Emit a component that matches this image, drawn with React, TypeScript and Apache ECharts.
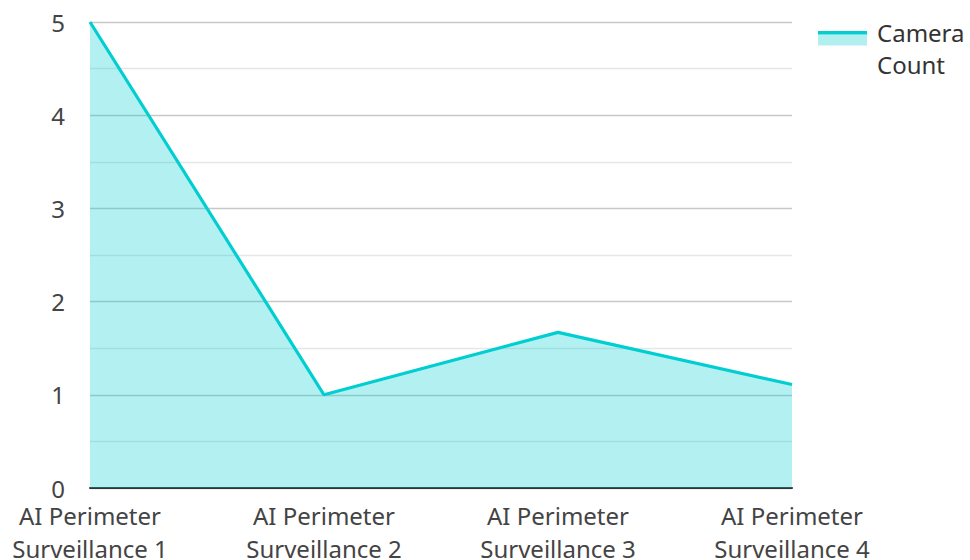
import React, { useEffect, useRef } from "react";
import * as echarts from "echarts";

const categories = [
  "AI Perimeter\nSurveillance 1",
  "AI Perimeter\nSurveillance 2",
  "AI Perimeter\nSurveillance 3",
  "AI Perimeter\nSurveillance 4",
];
const cameraCount = [5, 1, 1.67, 1.11];
const seriesName = "Camera Count";
const legendLines = ["Camera", "Count"];

const FONT = "'Noto Sans', 'Open Sans', sans-serif";
const LINE_COLOR = "#00CED1";
const AREA_COLOR = "#B2F0F0";

export default function App() {
  const ref = useRef<HTMLDivElement>(null);
  useEffect(() => {
    if (!ref.current) return;
    const chart = echarts.init(ref.current, undefined, { renderer: "svg" });
    chart.setOption({
      animation: false,
      backgroundColor: "#ffffff",
      textStyle: { fontFamily: FONT },
      grid: { left: 90, right: 178, top: 22, bottom: 72, containLabel: false, outerBoundsMode: "none" },
      xAxis: {
        type: "category",
        data: categories,
        boundaryGap: false,
        axisLine: { show: true, lineStyle: { color: "#333333", width: 2 } },
        axisTick: { show: false },
        splitLine: { show: false },
        axisLabel: {
          color: "#444444",
          fontSize: 24,
          lineHeight: 33,
          margin: 11,
          fontFamily: FONT,
          interval: 0,
        },
      },
      yAxis: {
        type: "value",
        min: 0,
        max: 5,
        interval: 1,
        axisLine: { show: false },
        axisTick: { show: false },
        axisLabel: { color: "#444444", fontSize: 24, margin: 25, fontFamily: FONT },
        splitLine: { show: true, lineStyle: { color: "#c8c8c8", width: 1.3 } },
        minorTick: { show: false, splitNumber: 2 },
        minorSplitLine: { show: true, lineStyle: { color: "#e6e6e6", width: 1.3 } },
      },
      series: [
        {
          name: seriesName,
          type: "line",
          data: cameraCount,
          symbol: "none",
          lineStyle: { color: LINE_COLOR, width: 3.2 },
          itemStyle: { color: LINE_COLOR },
          areaStyle: { color: LINE_COLOR, opacity: 0.3 },
        },
      ],
      graphic: [
        { type: "rect", shape: { x: 818, y: 34.5, width: 49, height: 11 }, style: { fill: AREA_COLOR } },
        { type: "rect", shape: { x: 818, y: 31, width: 49, height: 3.5 }, style: { fill: LINE_COLOR } },
        {
          type: "text",
          x: 877,
          y: 32,
          style: { text: legendLines[0], fill: "#333333", fontSize: 24, fontFamily: FONT, verticalAlign: "middle", align: "left" },
        },
        {
          type: "text",
          x: 877,
          y: 64.5,
          style: { text: legendLines[1], fill: "#333333", fontSize: 24, fontFamily: FONT, verticalAlign: "middle", align: "left" },
        },
      ],
    });
    return () => chart.dispose();
  }, []);
  return <div ref={ref} style={{ width: 970, height: 560, position: "absolute", left: 0, top: 0 }} />;
}
